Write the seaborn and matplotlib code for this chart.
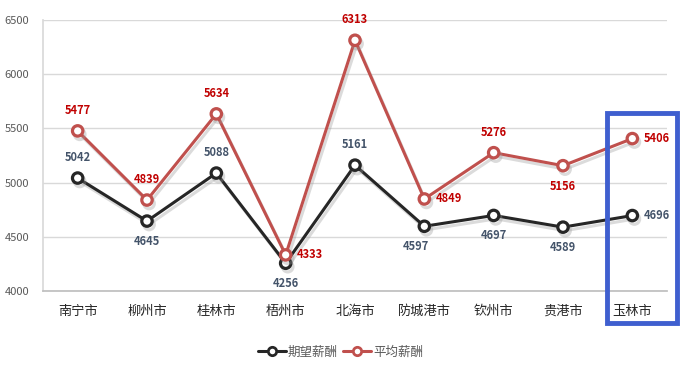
import matplotlib
matplotlib.use("Agg")
import matplotlib.pyplot as plt
import matplotlib.patheffects as pe
from matplotlib.patches import Rectangle
from matplotlib.lines import Line2D
import seaborn as sns
import pandas as pd

cities = ["南宁市", "柳州市", "桂林市", "梧州市", "北海市", "防城港市", "钦州市", "贵港市", "玉林市"]
expected = [5042, 4645, 5088, 4256, 5161, 4597, 4697, 4589, 4696]
average = [5477, 4839, 5634, 4333, 6313, 4849, 5276, 5156, 5406]

# where each value label sits relative to its point
exp_pos = ["up", "down", "up", "down", "up", "downleft", "down", "down", "right"]
avg_pos = ["up", "up", "up", "right", "up", "right", "up", "down", "right"]

sns.set_theme(style="white")
plt.rcParams["font.family"] = ["Noto Sans CJK SC", "DejaVu Sans"]

df = pd.DataFrame({"city": cities * 2,
                   "value": expected + average,
                   "series": ["期望薪酬"] * 9 + ["平均薪酬"] * 9})

fig = plt.figure(figsize=(6.81, 3.71), dpi=100)
ax = fig.add_axes([43 / 681, 1 - 291 / 371, 624 / 681, 271 / 371])

colors = {"期望薪酬": "#262626", "平均薪酬": "#c0504d"}
sns.lineplot(data=df, x="city", y="value", hue="series", palette=colors, ax=ax,
             marker="o", markersize=7.5, markerfacecolor="white", markeredgewidth=2.3,
             linewidth=2.2, sort=False, legend=False)
for ln in ax.get_lines():
    ln.set_path_effects([pe.SimpleLineShadow(offset=(1.5, -2.5), shadow_color="#999999", alpha=0.35),
                         pe.Normal()])
    ln.set_markeredgecolor(ln.get_color())

ax.set_xlim(-0.5, 8.5)
ax.set_ylim(4000, 6500)
ax.set_yticks([4000, 4500, 5000, 5500, 6000, 6500])
ax.yaxis.grid(True, color="#d9d9d9", linewidth=1)
ax.set_xlabel("")
ax.set_ylabel("")
for s in ["top", "right"]:
    ax.spines[s].set_visible(False)
ax.spines["left"].set_color("#d9d9d9")
ax.spines["bottom"].set_color("#bfbfbf")
ax.tick_params(axis="y", labelsize=8, colors="#595959", pad=4)
ax.tick_params(axis="x", labelsize=9.5, colors="#262626", pad=4)
ax.tick_params(left=False, bottom=False)


def place(pos):
    return {"up": (0, 10, "center", "bottom"),
            "down": (0, -10, "center", "top"),
            "downleft": (-6, -10, "center", "top"),
            "right": (8, 0, "left", "center")}[pos]


for i, (v, p) in enumerate(zip(expected, exp_pos)):
    dx, dy, ha, va = place(p)
    ax.annotate(str(v), (i, v), xytext=(dx, dy), textcoords="offset points",
                ha=ha, va=va, fontsize=8, color="#44546a", fontweight="bold")
for i, (v, p) in enumerate(zip(average, avg_pos)):
    dx, dy, ha, va = place(p)
    ax.annotate(str(v), (i, v), xytext=(dx, dy), textcoords="offset points",
                ha=ha, va=va, fontsize=8, color="#c00000", fontweight="bold")

# legend at the bottom
handles = [Line2D([], [], color=colors[k], marker="o", markerfacecolor="white",
                  markeredgecolor=colors[k], markeredgewidth=2, markersize=6, linewidth=2.2)
           for k in ["期望薪酬", "平均薪酬"]]
leg = fig.legend(handles, ["期望薪酬", "平均薪酬"], loc="center", bbox_to_anchor=(0.5, 1 - 352 / 371),
                 ncol=2, frameon=False, fontsize=9, handlelength=2.2, handletextpad=0.2, columnspacing=0.4)
for t in leg.get_texts():
    t.set_color("#595959")

# highlight box around the last city
fig.patches.append(Rectangle((607 / 681, 1 - 323 / 371), 70 / 681, 210 / 371,
                             transform=fig.transFigure, fill=False, edgecolor="#3f5fcf",
                             linewidth=3.5, figure=fig))

fig.savefig("out.png", dpi=100, facecolor="white")
